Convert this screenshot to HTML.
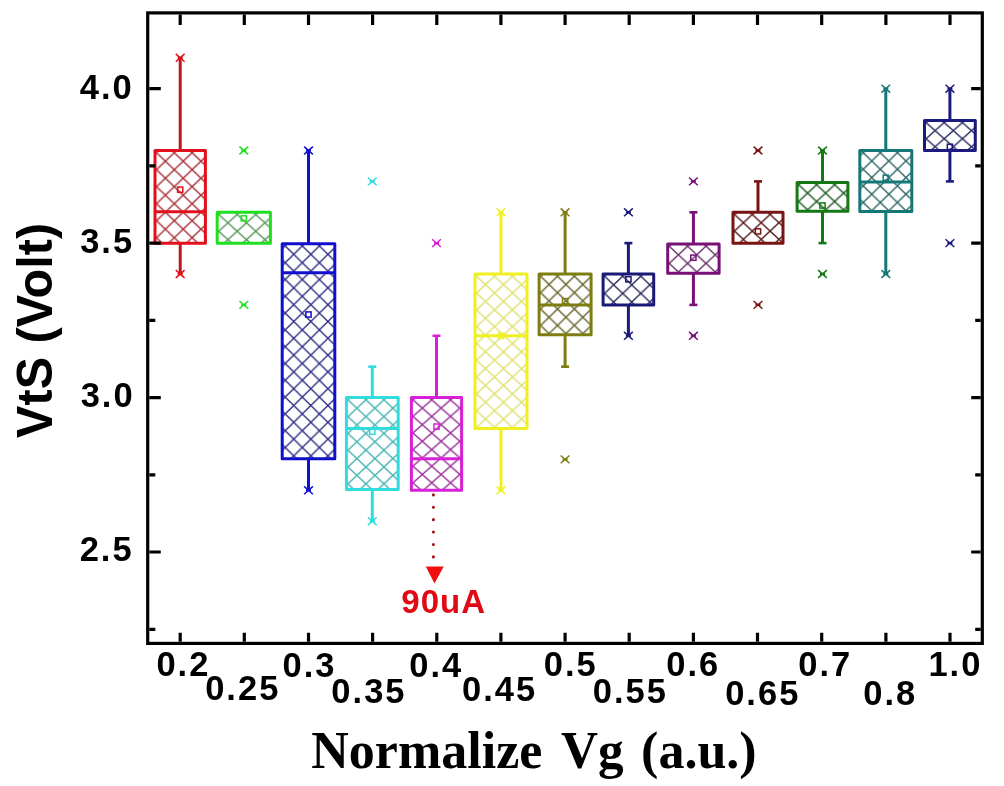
<!DOCTYPE html>
<html><head><meta charset="utf-8"><style>
html,body{margin:0;padding:0;background:#fff;overflow:hidden;}
svg{display:block;will-change:transform;}
.tl{font-family:"Liberation Sans",sans-serif;font-weight:bold;font-size:34.5px;letter-spacing:2px;fill:#000;}
.yt{font-family:"Liberation Sans",sans-serif;font-weight:bold;font-size:48.6px;fill:#000;}
.xt{font-family:"Liberation Serif",serif;font-weight:bold;font-size:52px;fill:#000;}
.ann{font-family:"Liberation Sans",sans-serif;font-weight:bold;font-size:33px;letter-spacing:1px;fill:#E00A14;}
</style></head><body>
<svg width="1004" height="786" viewBox="0 0 1004 786">
<defs><pattern id="h0" patternUnits="userSpaceOnUse" x="156.50" y="152.68" width="17.8" height="17.0"><path d="M0 0L17.8 17.0M17.8 0L0 17.0M-17.8 0L17.8 34.0M0 -17.0L35.6 17.0M35.6 0L0 34.0M17.8 -17.0L-17.8 17.0" stroke="#A83038" stroke-width="1.4"/></pattern><pattern id="h1" patternUnits="userSpaceOnUse" x="218.70" y="214.46" width="18.5" height="16.8"><path d="M0 0L18.5 16.8M18.5 0L0 16.8M-18.5 0L18.5 33.6M0 -16.8L37.0 16.8M37.0 0L0 33.6M18.5 -16.8L-18.5 16.8" stroke="#589858" stroke-width="1.4"/></pattern><pattern id="h2" patternUnits="userSpaceOnUse" x="285.20" y="245.90" width="17.1" height="16.8"><path d="M0 0L17.1 16.8M17.1 0L0 16.8M-17.1 0L17.1 33.6M0 -16.8L34.2 16.8M34.2 0L0 33.6M17.1 -16.8L-17.1 16.8" stroke="#303088" stroke-width="1.4"/></pattern><pattern id="h3" patternUnits="userSpaceOnUse" x="347.90" y="399.80" width="18.0" height="16.8"><path d="M0 0L18.0 16.8M18.0 0L0 16.8M-18.0 0L18.0 33.6M0 -16.8L36.0 16.8M36.0 0L0 33.6M18.0 -16.8L-18.0 16.8" stroke="#48B4B4" stroke-width="1.4"/></pattern><pattern id="h4" patternUnits="userSpaceOnUse" x="412.90" y="399.80" width="18.8" height="16.6"><path d="M0 0L18.8 16.6M18.8 0L0 16.6M-18.8 0L18.8 33.2M0 -16.6L37.6 16.6M37.6 0L0 33.2M18.8 -16.6L-18.8 16.6" stroke="#983098" stroke-width="1.4"/></pattern><pattern id="h5" patternUnits="userSpaceOnUse" x="476.50" y="276.24" width="18.0" height="16.8"><path d="M0 0L18.0 16.8M18.0 0L0 16.8M-18.0 0L18.0 33.6M0 -16.8L36.0 16.8M36.0 0L0 33.6M18.0 -16.8L-18.0 16.8" stroke="#E0E070" stroke-width="1.4"/></pattern><pattern id="h6" patternUnits="userSpaceOnUse" x="540.60" y="276.24" width="16.9" height="16.4"><path d="M0 0L16.9 16.4M16.9 0L0 16.4M-16.9 0L16.9 32.8M0 -16.4L33.8 16.4M33.8 0L0 32.8M16.9 -16.4L-16.9 16.4" stroke="#646428" stroke-width="1.4"/></pattern><pattern id="h7" patternUnits="userSpaceOnUse" x="604.60" y="276.24" width="18.1" height="17.2"><path d="M0 0L18.1 17.2M18.1 0L0 17.2M-18.1 0L18.1 34.4M0 -17.2L36.2 17.2M36.2 0L0 34.4M18.1 -17.2L-18.1 17.2" stroke="#282858" stroke-width="1.4"/></pattern><pattern id="h8" patternUnits="userSpaceOnUse" x="669.20" y="246.20" width="18.4" height="17.2"><path d="M0 0L18.4 17.2M18.4 0L0 17.2M-18.4 0L18.4 34.4M0 -17.2L36.8 17.2M36.8 0L0 34.4M18.4 -17.2L-18.4 17.2" stroke="#683068" stroke-width="1.4"/></pattern><pattern id="h9" patternUnits="userSpaceOnUse" x="734.50" y="214.46" width="17.8" height="16.6"><path d="M0 0L17.8 16.6M17.8 0L0 16.6M-17.8 0L17.8 33.2M0 -16.6L35.6 16.6M35.6 0L0 33.2M17.8 -16.6L-17.8 16.6" stroke="#581818" stroke-width="1.4"/></pattern><pattern id="h10" patternUnits="userSpaceOnUse" x="798.60" y="184.70" width="18.0" height="16.8"><path d="M0 0L18.0 16.8M18.0 0L0 16.8M-18.0 0L18.0 33.6M0 -16.8L36.0 16.8M36.0 0L0 33.6M18.0 -16.8L-18.0 16.8" stroke="#205820" stroke-width="1.4"/></pattern><pattern id="h11" patternUnits="userSpaceOnUse" x="863.20" y="152.68" width="17.1" height="16.6"><path d="M0 0L17.1 16.6M17.1 0L0 16.6M-17.1 0L17.1 33.2M0 -16.6L34.2 16.6M34.2 0L0 33.2M17.1 -16.6L-17.1 16.6" stroke="#2C6464" stroke-width="1.4"/></pattern><pattern id="h12" patternUnits="userSpaceOnUse" x="926.00" y="122.60" width="18.2" height="16.1"><path d="M0 0L18.2 16.1M18.2 0L0 16.1M-18.2 0L18.2 32.2M0 -16.1L36.4 16.1M36.4 0L0 32.2M18.2 -16.1L-18.2 16.1" stroke="#282860" stroke-width="1.4"/></pattern></defs>
<rect width="1004" height="786" fill="#fff"/>
<path d="M180.2 57.8V150.5" stroke="#B81820" stroke-width="3.0"/>
<path d="M180.2 243.1V274.0" stroke="#B81820" stroke-width="3.0"/>
<rect x="155.0" y="150.5" width="50.4" height="92.7" fill="url(#h0)" stroke="#E3101C" stroke-width="3.0" stroke-linejoin="round"/>
<path d="M155.0 211.7H205.4" stroke="#E3101C" stroke-width="3.0"/>
<rect x="177.6" y="187.1" width="5.2" height="5.2" fill="none" stroke="#E3101C" stroke-width="1.5"/>
<path d="M175.8 53.9L184.6 61.7M184.6 53.9L175.8 61.7" stroke="#E3101C" stroke-width="1.5" fill="none"/>
<path d="M177.7 57.8H182.7" stroke="#E3101C" stroke-width="2.2"/>
<path d="M175.8 270.1L184.6 277.9M184.6 270.1L175.8 277.9" stroke="#E3101C" stroke-width="1.5" fill="none"/>
<path d="M177.7 274.0H182.7" stroke="#E3101C" stroke-width="2.2"/>
<rect x="217.2" y="212.3" width="53.2" height="30.9" fill="url(#h1)" stroke="#1EE01E" stroke-width="3.0" stroke-linejoin="round"/>
<rect x="241.2" y="215.8" width="5.2" height="5.2" fill="none" stroke="#1EE01E" stroke-width="1.5"/>
<path d="M239.4 146.6L248.2 154.4M248.2 146.6L239.4 154.4" stroke="#1EE01E" stroke-width="1.5" fill="none"/>
<path d="M241.3 150.5H246.3" stroke="#1EE01E" stroke-width="2.2"/>
<path d="M239.4 301.0L248.2 308.8M248.2 301.0L239.4 308.8" stroke="#1EE01E" stroke-width="1.5" fill="none"/>
<path d="M241.3 304.9H246.3" stroke="#1EE01E" stroke-width="2.2"/>
<path d="M308.5 150.5V243.7" stroke="#1010CC" stroke-width="3.0"/>
<path d="M308.5 458.7V490.3" stroke="#1010CC" stroke-width="3.0"/>
<rect x="282.2" y="243.7" width="52.6" height="215.0" fill="url(#h2)" stroke="#1010CC" stroke-width="3.0" stroke-linejoin="round"/>
<path d="M282.2 272.8H334.8" stroke="#1010CC" stroke-width="3.0"/>
<rect x="305.9" y="311.9" width="5.2" height="5.2" fill="none" stroke="#1010CC" stroke-width="1.5"/>
<path d="M304.1 146.6L312.9 154.4M312.9 146.6L304.1 154.4" stroke="#1010CC" stroke-width="1.5" fill="none"/>
<path d="M306.0 150.5H311.0" stroke="#1010CC" stroke-width="2.2"/>
<path d="M304.1 486.4L312.9 494.2M312.9 486.4L304.1 494.2" stroke="#1010CC" stroke-width="1.5" fill="none"/>
<path d="M306.0 490.3H311.0" stroke="#1010CC" stroke-width="2.2"/>
<path d="M372.3 366.7V397.6" stroke="#30DCDC" stroke-width="3.0"/>
<path d="M372.3 489.6V521.2" stroke="#30DCDC" stroke-width="3.0"/>
<rect x="346.4" y="397.6" width="51.8" height="92.0" fill="url(#h3)" stroke="#30DCDC" stroke-width="3.0" stroke-linejoin="round"/>
<path d="M346.4 428.5H398.2" stroke="#30DCDC" stroke-width="3.0"/>
<rect x="369.7" y="429.0" width="5.2" height="5.2" fill="none" stroke="#30DCDC" stroke-width="1.5"/>
<path d="M368.3 366.7H376.3" stroke="#30DCDC" stroke-width="2.6"/>
<path d="M367.9 517.3L376.7 525.1M376.7 517.3L367.9 525.1" stroke="#30DCDC" stroke-width="1.5" fill="none"/>
<path d="M369.8 521.2H374.8" stroke="#30DCDC" stroke-width="2.2"/>
<path d="M367.9 177.5L376.7 185.3M376.7 177.5L367.9 185.3" stroke="#30DCDC" stroke-width="1.5" fill="none"/>
<path d="M369.8 181.4H374.8" stroke="#30DCDC" stroke-width="2.2"/>
<path d="M436.5 335.8V397.6" stroke="#D820D8" stroke-width="3.0"/>
<rect x="411.4" y="397.6" width="50.2" height="92.7" fill="url(#h4)" stroke="#D820D8" stroke-width="3.0" stroke-linejoin="round"/>
<path d="M411.4 458.7H461.6" stroke="#D820D8" stroke-width="3.0"/>
<rect x="433.9" y="424.0" width="5.2" height="5.2" fill="none" stroke="#D820D8" stroke-width="1.5"/>
<path d="M432.5 335.8H440.5" stroke="#D820D8" stroke-width="2.6"/>
<path d="M432.1 239.2L440.9 247.0M440.9 239.2L432.1 247.0" stroke="#D820D8" stroke-width="1.5" fill="none"/>
<path d="M434.0 243.1H439.0" stroke="#D820D8" stroke-width="2.2"/>
<path d="M501.0 212.3V274.0" stroke="#F0F020" stroke-width="3.0"/>
<path d="M501.0 428.5V490.3" stroke="#F0F020" stroke-width="3.0"/>
<rect x="475.0" y="274.0" width="52.0" height="154.4" fill="url(#h5)" stroke="#F0F020" stroke-width="3.0" stroke-linejoin="round"/>
<path d="M475.0 335.8H527.0" stroke="#F0F020" stroke-width="3.0"/>
<rect x="498.4" y="333.2" width="5.2" height="5.2" fill="none" stroke="#F0F020" stroke-width="1.5"/>
<path d="M496.6 208.4L505.4 216.2M505.4 208.4L496.6 216.2" stroke="#F0F020" stroke-width="1.5" fill="none"/>
<path d="M498.5 212.3H503.5" stroke="#F0F020" stroke-width="2.2"/>
<path d="M496.6 486.4L505.4 494.2M505.4 486.4L496.6 494.2" stroke="#F0F020" stroke-width="1.5" fill="none"/>
<path d="M498.5 490.3H503.5" stroke="#F0F020" stroke-width="2.2"/>
<path d="M565.1 212.3V274.0" stroke="#7E7E10" stroke-width="3.0"/>
<path d="M565.1 334.8V366.7" stroke="#7E7E10" stroke-width="3.0"/>
<rect x="539.1" y="274.0" width="52.0" height="60.8" fill="url(#h6)" stroke="#7E7E10" stroke-width="3.0" stroke-linejoin="round"/>
<path d="M539.1 304.9H591.1" stroke="#7E7E10" stroke-width="3.0"/>
<rect x="562.5" y="298.6" width="5.2" height="5.2" fill="none" stroke="#7E7E10" stroke-width="1.5"/>
<path d="M560.7 208.4L569.5 216.2M569.5 208.4L560.7 216.2" stroke="#7E7E10" stroke-width="1.5" fill="none"/>
<path d="M562.6 212.3H567.6" stroke="#7E7E10" stroke-width="2.2"/>
<path d="M561.1 366.7H569.1" stroke="#7E7E10" stroke-width="2.6"/>
<path d="M560.7 455.5L569.5 463.3M569.5 455.5L560.7 463.3" stroke="#7E7E10" stroke-width="1.5" fill="none"/>
<path d="M562.6 459.4H567.6" stroke="#7E7E10" stroke-width="2.2"/>
<path d="M628.4 243.1V274.0" stroke="#1A1A78" stroke-width="3.0"/>
<path d="M628.4 304.9V335.8" stroke="#1A1A78" stroke-width="3.0"/>
<rect x="603.1" y="274.0" width="50.6" height="30.9" fill="url(#h7)" stroke="#1A1A78" stroke-width="3.0" stroke-linejoin="round"/>
<rect x="625.8" y="276.7" width="5.2" height="5.2" fill="none" stroke="#1A1A78" stroke-width="1.5"/>
<path d="M624.4 243.1H632.4" stroke="#1A1A78" stroke-width="2.6"/>
<path d="M624.0 331.9L632.8 339.7M632.8 331.9L624.0 339.7" stroke="#1A1A78" stroke-width="1.5" fill="none"/>
<path d="M625.9 335.8H630.9" stroke="#1A1A78" stroke-width="2.2"/>
<path d="M624.0 208.4L632.8 216.2M632.8 208.4L624.0 216.2" stroke="#1A1A78" stroke-width="1.5" fill="none"/>
<path d="M625.9 212.3H630.9" stroke="#1A1A78" stroke-width="2.2"/>
<path d="M693.4 212.3V244.0" stroke="#781078" stroke-width="3.0"/>
<path d="M693.4 273.2V304.9" stroke="#781078" stroke-width="3.0"/>
<rect x="667.7" y="244.0" width="51.4" height="29.2" fill="url(#h8)" stroke="#781078" stroke-width="3.0" stroke-linejoin="round"/>
<rect x="690.8" y="255.1" width="5.2" height="5.2" fill="none" stroke="#781078" stroke-width="1.5"/>
<path d="M689.4 212.3H697.4" stroke="#781078" stroke-width="2.6"/>
<path d="M689.4 304.9H697.4" stroke="#781078" stroke-width="2.6"/>
<path d="M689.0 177.5L697.8 185.3M697.8 177.5L689.0 185.3" stroke="#781078" stroke-width="1.5" fill="none"/>
<path d="M690.9 181.4H695.9" stroke="#781078" stroke-width="2.2"/>
<path d="M689.0 331.9L697.8 339.7M697.8 331.9L689.0 339.7" stroke="#781078" stroke-width="1.5" fill="none"/>
<path d="M690.9 335.8H695.9" stroke="#781078" stroke-width="2.2"/>
<path d="M758.0 181.4V212.3" stroke="#781414" stroke-width="3.0"/>
<rect x="733.0" y="212.3" width="50.0" height="30.9" fill="url(#h9)" stroke="#781414" stroke-width="3.0" stroke-linejoin="round"/>
<rect x="755.4" y="228.8" width="5.2" height="5.2" fill="none" stroke="#781414" stroke-width="1.5"/>
<path d="M754.0 181.4H762.0" stroke="#781414" stroke-width="2.6"/>
<path d="M753.6 146.6L762.4 154.4M762.4 146.6L753.6 154.4" stroke="#781414" stroke-width="1.5" fill="none"/>
<path d="M755.5 150.5H760.5" stroke="#781414" stroke-width="2.2"/>
<path d="M753.6 301.0L762.4 308.8M762.4 301.0L753.6 308.8" stroke="#781414" stroke-width="1.5" fill="none"/>
<path d="M755.5 304.9H760.5" stroke="#781414" stroke-width="2.2"/>
<path d="M822.5 150.5V182.5" stroke="#147814" stroke-width="3.0"/>
<path d="M822.5 211.2V243.1" stroke="#147814" stroke-width="3.0"/>
<rect x="797.1" y="182.5" width="50.8" height="28.7" fill="url(#h10)" stroke="#147814" stroke-width="3.0" stroke-linejoin="round"/>
<rect x="819.9" y="202.9" width="5.2" height="5.2" fill="none" stroke="#147814" stroke-width="1.5"/>
<path d="M818.1 146.6L826.9 154.4M826.9 146.6L818.1 154.4" stroke="#147814" stroke-width="1.5" fill="none"/>
<path d="M820.0 150.5H825.0" stroke="#147814" stroke-width="2.2"/>
<path d="M818.5 243.1H826.5" stroke="#147814" stroke-width="2.6"/>
<path d="M818.1 270.1L826.9 277.9M826.9 270.1L818.1 277.9" stroke="#147814" stroke-width="1.5" fill="none"/>
<path d="M820.0 274.0H825.0" stroke="#147814" stroke-width="2.2"/>
<path d="M885.8 88.7V150.5" stroke="#147878" stroke-width="3.0"/>
<path d="M885.8 211.4V274.0" stroke="#147878" stroke-width="3.0"/>
<rect x="859.8" y="150.5" width="52.0" height="60.9" fill="url(#h11)" stroke="#147878" stroke-width="3.0" stroke-linejoin="round"/>
<path d="M859.8 182.0H911.8" stroke="#147878" stroke-width="3.0"/>
<rect x="883.2" y="175.1" width="5.2" height="5.2" fill="none" stroke="#147878" stroke-width="1.5"/>
<path d="M881.4 84.8L890.2 92.6M890.2 84.8L881.4 92.6" stroke="#147878" stroke-width="1.5" fill="none"/>
<path d="M883.3 88.7H888.3" stroke="#147878" stroke-width="2.2"/>
<path d="M881.4 270.1L890.2 277.9M890.2 270.1L881.4 277.9" stroke="#147878" stroke-width="1.5" fill="none"/>
<path d="M883.3 274.0H888.3" stroke="#147878" stroke-width="2.2"/>
<path d="M949.9 88.7V120.4" stroke="#1A1A80" stroke-width="3.0"/>
<path d="M949.9 150.5V181.4" stroke="#1A1A80" stroke-width="3.0"/>
<rect x="924.5" y="120.4" width="50.8" height="30.1" fill="url(#h12)" stroke="#1A1A80" stroke-width="3.0" stroke-linejoin="round"/>
<rect x="947.3" y="144.2" width="5.2" height="5.2" fill="none" stroke="#1A1A80" stroke-width="1.5"/>
<path d="M945.5 84.8L954.3 92.6M954.3 84.8L945.5 92.6" stroke="#1A1A80" stroke-width="1.5" fill="none"/>
<path d="M947.4 88.7H952.4" stroke="#1A1A80" stroke-width="2.2"/>
<path d="M945.9 181.4H953.9" stroke="#1A1A80" stroke-width="2.6"/>
<path d="M945.5 239.2L954.3 247.0M954.3 239.2L945.5 247.0" stroke="#1A1A80" stroke-width="1.5" fill="none"/>
<path d="M947.4 243.1H952.4" stroke="#1A1A80" stroke-width="2.2"/>
<path d="M433.4 494.8V560" stroke="#A01018" stroke-width="3" stroke-linecap="round" stroke-dasharray="0.1 12.3" />
<path d="M425.8 566.5H443.7L434.5 583.5Z" fill="#F01010"/>
<text x="443.65" y="612.70" text-anchor="middle" class="ann" id="ann">90uA</text>
<rect x="147.7" y="12.9" width="834.6" height="630.5" fill="none" stroke="#000" stroke-width="3.2" stroke-linejoin="miter"/>
<path d="M180.2 14.5v10.5M180.2 641.8v-9 M244.3 14.5v10.5M244.3 641.8v-9 M308.5 14.5v10.5M308.5 641.8v-9 M372.6 14.5v10.5M372.6 641.8v-9 M436.8 14.5v10.5M436.8 641.8v-9 M500.9 14.5v10.5M500.9 641.8v-9 M565.1 14.5v10.5M565.1 641.8v-9 M629.2 14.5v10.5M629.2 641.8v-9 M693.4 14.5v10.5M693.4 641.8v-9 M757.5 14.5v10.5M757.5 641.8v-9 M821.7 14.5v10.5M821.7 641.8v-9 M885.9 14.5v10.5M885.9 641.8v-9 M950.0 14.5v10.5M950.0 641.8v-9 M149.3 629.3h6M980.7 629.3h-5.5 M149.3 552.0h11.5M980.7 552.0h-9.5 M149.3 474.8h6M980.7 474.8h-5.5 M149.3 397.6h11.5M980.7 397.6h-9.5 M149.3 320.4h6M980.7 320.4h-5.5 M149.3 243.1h11.5M980.7 243.1h-9.5 M149.3 165.9h6M980.7 165.9h-5.5 M149.3 88.7h11.5M980.7 88.7h-9.5" stroke="#000" stroke-width="3.2"/>
<text x="133.80" y="99.00" text-anchor="end" class="tl" id="y4.0">4.0</text>
<text x="134.10" y="252.60" text-anchor="end" class="tl" id="y3.5">3.5</text>
<text x="134.60" y="407.00" text-anchor="end" class="tl" id="y3.0">3.0</text>
<text x="133.60" y="561.20" text-anchor="end" class="tl" id="y2.5">2.5</text>
<text x="183.40" y="676.40" text-anchor="middle" class="tl" id="x0.2">0.2</text>
<text x="242.75" y="699.80" text-anchor="middle" class="tl" id="x0.25">0.25</text>
<text x="309.50" y="677.00" text-anchor="middle" class="tl" id="x0.3">0.3</text>
<text x="368.95" y="703.40" text-anchor="middle" class="tl" id="x0.35">0.35</text>
<text x="436.20" y="676.60" text-anchor="middle" class="tl" id="x0.4">0.4</text>
<text x="499.55" y="701.40" text-anchor="middle" class="tl" id="x0.45">0.45</text>
<text x="570.70" y="676.00" text-anchor="middle" class="tl" id="x0.5">0.5</text>
<text x="630.35" y="703.40" text-anchor="middle" class="tl" id="x0.55">0.55</text>
<text x="693.20" y="676.00" text-anchor="middle" class="tl" id="x0.6">0.6</text>
<text x="762.75" y="704.80" text-anchor="middle" class="tl" id="x0.65">0.65</text>
<text x="825.20" y="676.00" text-anchor="middle" class="tl" id="x0.7">0.7</text>
<text x="890.30" y="704.80" text-anchor="middle" class="tl" id="x0.8">0.8</text>
<text x="955.40" y="676.00" text-anchor="middle" class="tl" id="x1.0">1.0</text>
<text transform="translate(51.70 330.40) rotate(-90) scale(1,1.045)" text-anchor="middle" class="yt" id="ytitle">VtS (Volt)</text>
<text x="311.30" y="767.50" class="xt" id="xt1">Normalize</text>
<text transform="translate(561.00 767.50) scale(0.985,1)" class="xt" id="xt2">Vg</text>
<text x="641.10" y="767.50" class="xt" id="xt3">(a.u.)</text>
</svg></body></html>
